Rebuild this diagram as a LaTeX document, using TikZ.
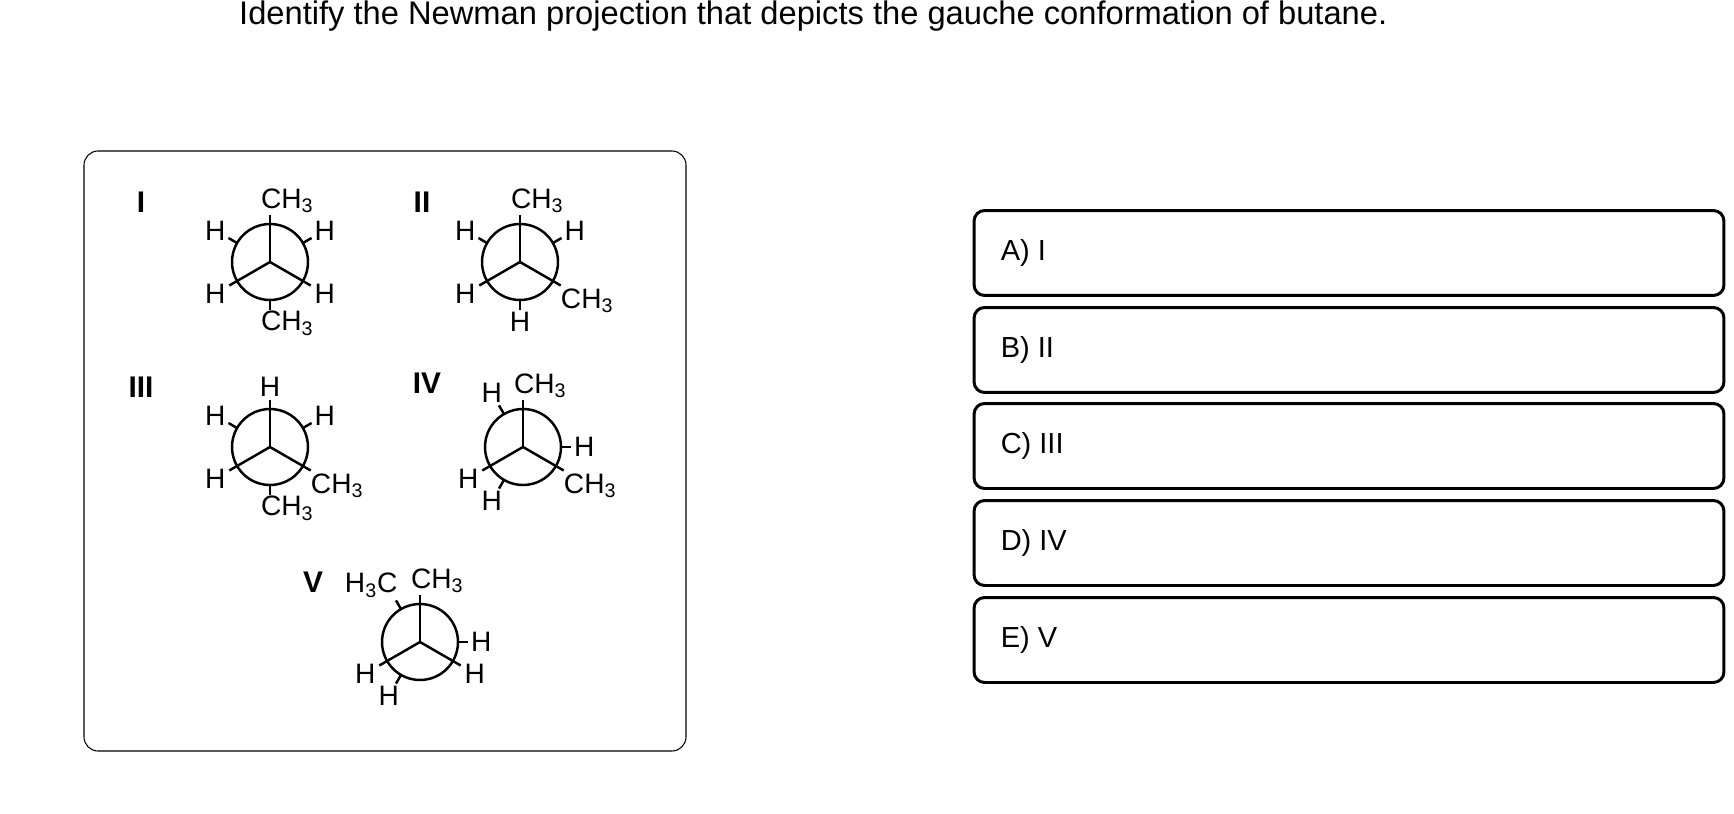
\documentclass[tikz,border=0pt]{standalone}
\usepackage{fontspec}
\setmainfont{Liberation Sans}
\usetikzlibrary{calc}
\tikzset{bond/.style={line width=1.4pt},
 lab/.style={inner sep=1pt,font=\fontsize{16}{16}\selectfont},
 roman/.style={font=\fontsize{17}{17}\selectfont\bfseries},
 ansbox/.style={draw,line width=1.7pt,rounded corners=6pt,minimum width=15cm,minimum height=1.7cm}}
\newcommand{\npc}[3]{\coordinate (#1) at (#2,-#3);
 \draw[bond] (#1) circle[radius=0.76cm];}
\newcommand{\fb}[2]{\draw[bond] (#1) -- ($(#1)+(#2:47)$);}
\newcommand{\bb}[2]{\draw[bond] ($(#1)+(#2:38)$) -- ($(#1)+(#2:48)$);}
\newcommand{\lab}[4]{\node[lab,anchor=#3] at ($(#1)+(#2:49)$) {#4};}
\newcommand{\mtop}[2]{\node[lab,anchor=south west] at ($(#1)+(-11,47)$) {#2};}
\newcommand{\mbot}[2]{\node[lab,anchor=north west] at ($(#1)+(-11,-47)$) {#2};}
\newcommand{\me}{CH\textsubscript{3}}
\begin{document}
\begin{tikzpicture}[x=0.02cm,y=0.02cm]
\useasboundingbox (0,0) rectangle (1734,-814);
\node[anchor=west,font=\fontsize{18.6}{18.6}\selectfont] (title) at (233,-16) {Identify the Newman projection that depicts the gauche conformation of butane.};
\draw[line width=0.6pt,rounded corners=8pt] (84,-151) rectangle (686,-751);
% I
\node[roman] (rI) at (141,-202) {I};
\npc{I}{270}{262}
\fb{I}{90}\fb{I}{210}\fb{I}{330}\bb{I}{30}\bb{I}{150}\bb{I}{270}
\mtop{I}{\me}\mbot{I}{\me}
\lab{I}{150}{330}{H}\lab{I}{30}{210}{H}\lab{I}{210}{30}{H}\lab{I}{330}{150}{H}
% II
\node[roman] (rII) at (422,-202) {II};
\npc{II}{520}{262}
\fb{II}{90}\fb{II}{210}\fb{II}{330}\bb{II}{30}\bb{II}{150}\bb{II}{270}
\mtop{II}{\me}
\node[lab,anchor=north] at ($(II)+(270:48)$) {H};
\lab{II}{150}{330}{H}\lab{II}{30}{210}{H}\lab{II}{210}{30}{H}\lab{II}{330}{150}{\me}
% III
\node[roman] (rIII) at (141,-387) {III};
\npc{III}{270}{447}
\fb{III}{90}\fb{III}{210}\fb{III}{330}\bb{III}{30}\bb{III}{150}\bb{III}{270}
\node[lab,anchor=south] at ($(III)+(90:48)$) {H};
\mbot{III}{\me}
\lab{III}{150}{330}{H}\lab{III}{30}{210}{H}\lab{III}{210}{30}{H}\lab{III}{330}{150}{\me}
% IV
\node[roman] (rIV) at (427,-383) {IV};
\npc{IV}{523}{447}
\fb{IV}{90}\fb{IV}{210}\fb{IV}{330}\bb{IV}{120}\bb{IV}{0}\bb{IV}{240}
\mtop{IV}{\me}
\lab{IV}{120}{300}{H}\lab{IV}{0}{180}{H}\lab{IV}{240}{60}{H}\lab{IV}{210}{30}{H}\lab{IV}{330}{150}{\me}
% V
\node[roman] (rV) at (313,-582) {V};
\npc{V}{420}{642}
\fb{V}{90}\fb{V}{210}\fb{V}{330}\bb{V}{120}\bb{V}{0}\bb{V}{240}
\mtop{V}{\me}
\node[lab,anchor=south east] at ($(V)+(120:49)+(4,0)$) {H\textsubscript{3}C};
\lab{V}{0}{180}{H}\lab{V}{240}{60}{H}\lab{V}{210}{30}{H}\lab{V}{330}{150}{H}
% answers
\foreach \t/\y [count=\i] in {A) I/253, B) II/350, C) III/446, D) IV/543, E) V/640}{
 \node[ansbox] (ans\i) at (1349,-\y) {};
 \node[anchor=west,font=\fontsize{16.5}{16.5}\selectfont] (anst\i) at ($(ans\i.west)+(22,0)$) {\t};
}
\end{tikzpicture}
\end{document}
